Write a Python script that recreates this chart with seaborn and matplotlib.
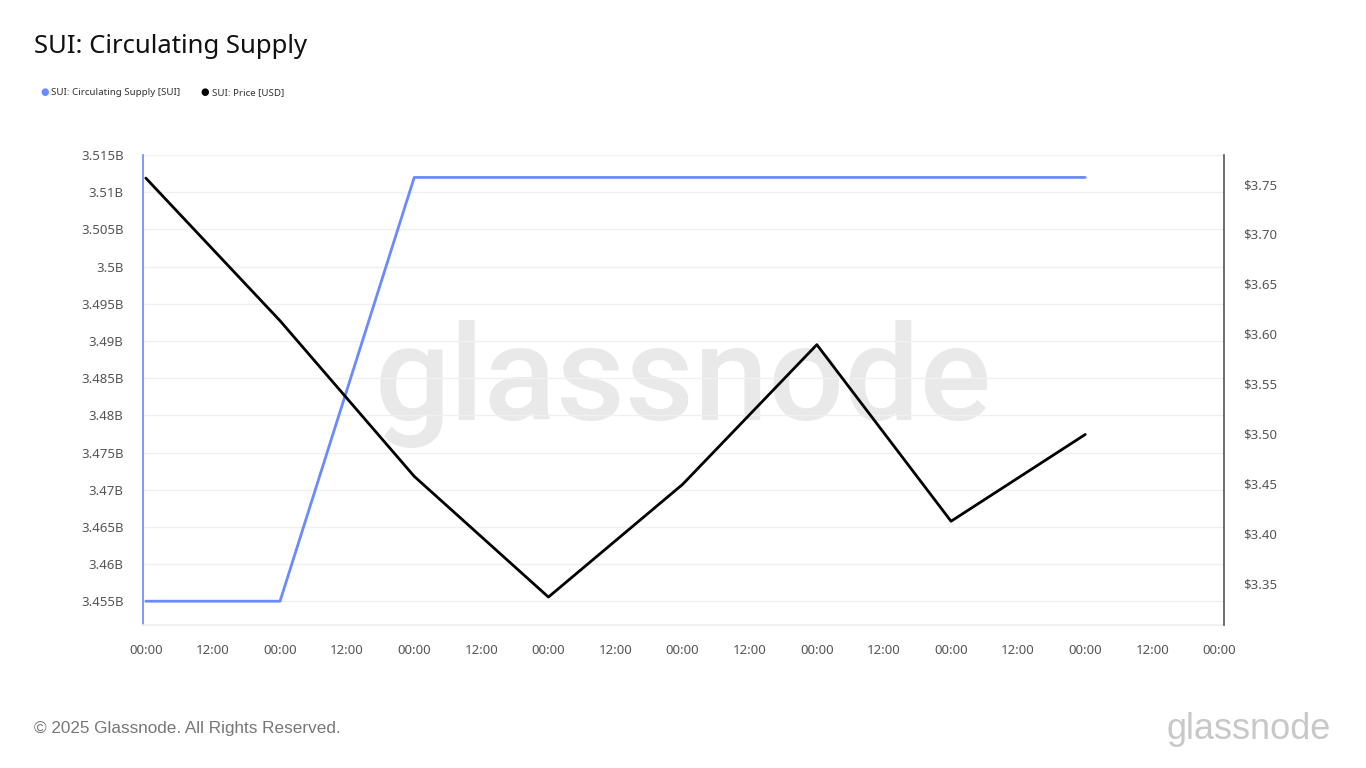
import pandas as pd
import matplotlib.pyplot as plt
import matplotlib.dates as mdates
from matplotlib.ticker import FuncFormatter
import seaborn as sns

# daily values
dates = pd.date_range("2025-01-01", periods=8, freq="D")
supply_b = [3.455, 3.455, 3.512, 3.512, 3.512, 3.512, 3.512, 3.512]
price_usd = [3.756, 3.613, 3.457, 3.336, 3.449, 3.589, 3.412, 3.499]

supply_color = "#6b8afd"
price_color = "#000000"

sns.set_theme(style="white")
plt.rcParams["font.family"] = ["Noto Sans", "DejaVu Sans"]

df = pd.DataFrame({"date": dates, "supply": supply_b, "price": price_usd})

fig = plt.figure(figsize=(13.66, 7.68), dpi=100)
ax = fig.add_axes([0.1047, 0.1862, 0.7913, 0.6118])
ax2 = ax.twinx()

sns.lineplot(data=df, x="date", y="supply", ax=ax, color=supply_color, linewidth=2)
sns.lineplot(data=df, x="date", y="price", ax=ax2, color=price_color, linewidth=2)

# axes limits
x0 = dates[0] - pd.Timedelta(hours=0.5)
x1 = dates[0] + pd.Timedelta(days=8, hours=0.8)
ax.set_xlim(x0, x1)
ax.set_ylim(3.4518, 3.515)
ax2.set_ylim(3.308, 3.779)

ax.set_yticks([3.455 + 0.005 * i for i in range(13)])
ax.yaxis.set_major_formatter(FuncFormatter(lambda v, p: f"{v:.3f}".rstrip("0").rstrip(".") + "B"))
ax2.set_yticks([3.35 + 0.05 * i for i in range(9)])
ax2.yaxis.set_major_formatter(FuncFormatter(lambda v, p: f"${v:.2f}"))

ax.xaxis.set_major_locator(mdates.HourLocator(byhour=[0, 12]))
ax.xaxis.set_major_formatter(mdates.DateFormatter("%H:%M"))

ax.grid(axis="y", color="#f0f0f0", linewidth=1)
ax.set_xlabel("")
ax.set_ylabel("")
ax2.set_ylabel("")

tick_col = "#555555"
ax.tick_params(axis="y", labelsize=9.5, colors=tick_col, length=0, pad=14)
ax.tick_params(axis="x", labelsize=9.5, colors=tick_col, length=6, width=1,
               direction="out", pad=8)
ax.tick_params(axis="x", which="major", color="#e6e6e6")
ax2.tick_params(axis="y", labelsize=9.5, colors=tick_col, length=0, pad=14)

for a in (ax, ax2):
    for s in a.spines.values():
        s.set_visible(False)
ax.spines["left"].set_visible(True)
ax.spines["left"].set_color(supply_color)
ax.spines["left"].set_linewidth(1.2)
ax.spines["bottom"].set_visible(True)
ax.spines["bottom"].set_color("#eeeeee")
ax2.spines["right"].set_visible(True)
ax2.spines["right"].set_color("#555555")
ax2.spines["right"].set_linewidth(1.2)

# watermark
fig.text(0.5, 0.50, "glassnode", fontsize=96, color="#e9e9e9", ha="center",
         va="center", zorder=0, family="Roboto", fontweight="medium")
ax.set_zorder(2)
ax2.set_zorder(3)
ax.patch.set_visible(False)

fig.text(0.025, 0.94, "SUI: Circulating Supply", fontsize=18.5, color="#111111", va="center")

# legend
fig.text(0.0295, 0.879, "\u25CF", fontsize=7, color=supply_color, va="center")
fig.text(0.0375, 0.879, "SUI: Circulating Supply [SUI]", fontsize=7, color="#333333", va="center")
fig.text(0.147, 0.879, "\u25CF", fontsize=7, color=price_color, va="center")
fig.text(0.155, 0.879, "SUI: Price [USD]", fontsize=7, color="#333333", va="center")

fig.text(0.025, 0.052, "\u00A9 2025 Glassnode. All Rights Reserved.", fontsize=12.3,
         color="#777777", va="center", family="Liberation Sans")
fig.text(0.974, 0.05, "glassnode", fontsize=26, color="#c8c8c8", ha="right",
         va="center", family="Liberation Sans")

fig.savefig("out.png", dpi=100)
